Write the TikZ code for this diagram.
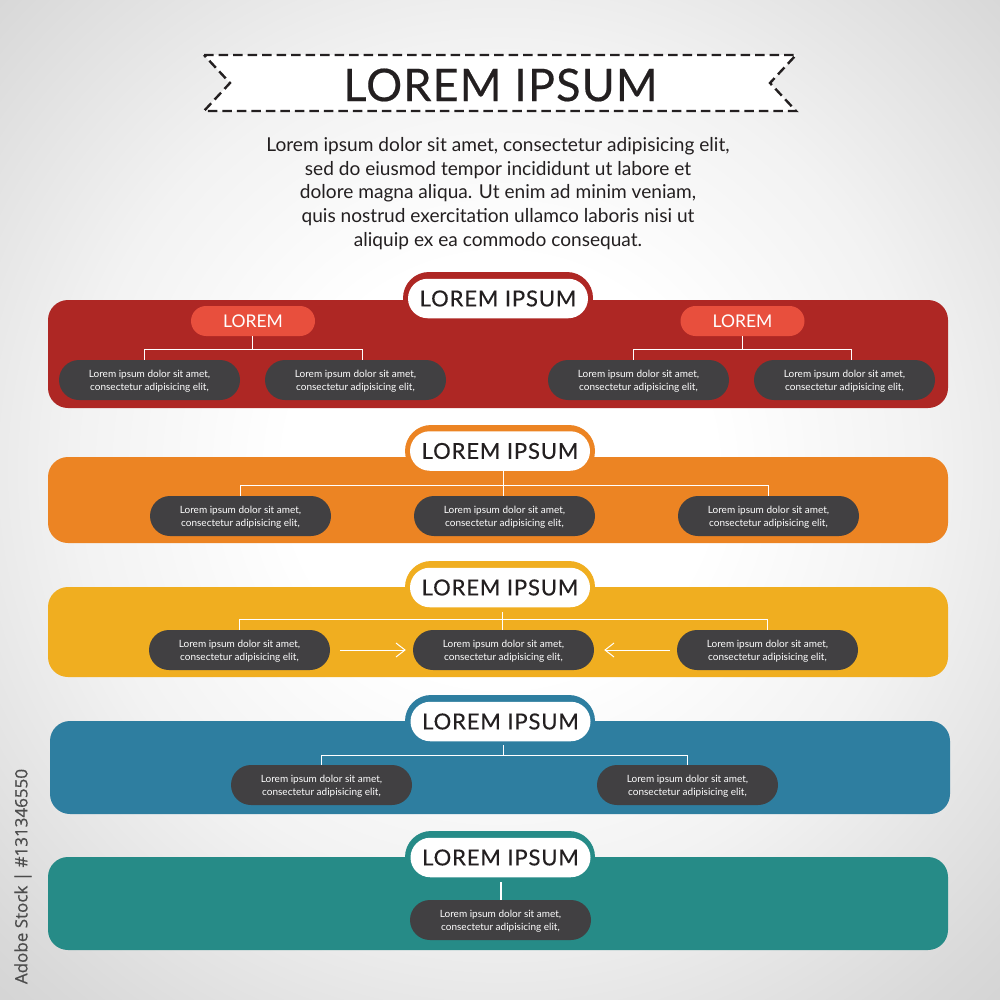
\documentclass[tikz,border=0pt]{standalone}
\usepackage{fontspec}
\setmainfont{Lato}
\newfontfamily\sidefont[FakeBold=0.5]{Open Sans}
\newfontfamily\headfont[LetterSpace=4,FakeBold=0.3]{Lato}
\newfontfamily\titlefont[LetterSpace=2.5,FakeBold=0.4]{Lato}
\usetikzlibrary{shapes.misc,arrows.meta,positioning}
\definecolor{cred}{HTML}{AE2724}
\definecolor{corange}{HTML}{EC8423}
\definecolor{cyellow}{HTML}{F0AE20}
\definecolor{cblue}{HTML}{2E7EA0}
\definecolor{cteal}{HTML}{268B87}
\definecolor{cdark}{HTML}{414042}
\definecolor{csub}{HTML}{E84F3D}
\definecolor{cink}{HTML}{231F20}
\pgfdeclareradialshading{bgshade}{\pgfpointorigin}{color(0bp)=(white);color(7bp)=(white);color(14bp)=(black!5);color(22.3bp)=(black!15);color(32.6bp)=(black!25);color(50bp)=(black!30)}
\tikzset{
  x=1pt,y=-1pt,
  band/.style={rounded corners=20pt,fill=#1},
  ring/.style={rounded rectangle,fill=#1,minimum width=190pt,minimum height=52pt,inner sep=0pt},
  hdr/.style={rounded rectangle,fill=white,minimum width=180pt,minimum height=39.5pt,inner sep=0pt,text=cink,font=\headfont\fontsize{22}{22}\selectfont},
  dark/.style={rounded rectangle,fill=cdark,minimum width=181pt,minimum height=40pt,inner sep=0pt,text=white,align=center,font=\fontsize{10}{13}\selectfont},
  sub/.style={rounded rectangle,fill=csub,minimum width=124pt,minimum height=30pt,inner sep=0pt,text=white,font=\fontsize{17.5}{17.5}\selectfont},
  link/.style={draw=white,line width=1.1pt},
  flow/.style={draw=white,line width=1pt,-{Straight Barb[length=9pt,width=14pt,line width=1pt]}},
  ribbon/.style={draw=cink,fill=white,line width=2.4pt,dash pattern=on 9.5pt off 5pt,line join=miter}
}
\newcommand{\LL}{\rule{0pt}{10pt}Lorem ipsum dolor sit amet,\\consectetur adipisicing elit,}
\newcommand{\HH}{LOREM IPSUM}
\begin{document}
\begin{tikzpicture}
\useasboundingbox (0,0) rectangle (1000,1000);
\begin{scope}
  \clip (0,0) rectangle (1000,1000);
  \shade[shading=bgshade] (500,470) circle (760);
\end{scope}

% title ribbon
\draw[ribbon] (204,55) -- (796,55) -- (770,83) -- (796,111) -- (204,111) -- (230,83) -- cycle;
\node[text=cink,font=\titlefont\fontsize{45}{45}\selectfont] (title) at (500.5,85) {LOREM IPSUM};
\node[text=cink,align=center,font=\fontsize{19.1}{23.8}\selectfont] (intro) at (498,193.5)
  {Lorem ipsum dolor sit amet, consectetur adipisicing elit,\\
   sed do eiusmod tempor incididunt ut labore et\\
   dolore magna aliqua. Ut enim ad minim veniam,\\
   quis nostrud exercitation ullamco laboris nisi ut\\
   aliquip ex ea commodo consequat.};

% red band
\fill[band=cred] (48,300) rectangle (948,408);
\node[ring=cred] (r0) at (498,298) {};
\node[hdr] (rh) at (498,298.5) {\HH};
\node[sub] (rs1) at (253,321) {LOREM};
\node[sub] (rs2) at (742.5,321) {LOREM};
\node[dark] (ra) at (149.5,380) {\LL};
\node[dark] (rb) at (355.5,380) {\LL};
\node[dark] (rc) at (638.5,380) {\LL};
\node[dark] (rd) at (844.5,380) {\LL};
\coordinate (rj1) at (252.5,349.5);
\coordinate (rj2) at (742.5,349.5);
\draw[link] (rs1.south -| rj1) -- (rj1);
\draw[link] ([xshift=-5pt]ra.north) |- (rj1) -| ([xshift=7pt]rb.north);
\draw[link] (rs2.south) -- (rj2);
\draw[link] ([xshift=-5pt]rc.north) |- (rj2) -| ([xshift=7pt]rd.north);

% orange band
\fill[band=corange] (48,457) rectangle (948,543);
\node[ring=corange] (o0) at (500,451) {};
\node[hdr] (oh) at (500,451) {\HH};
\node[dark] (oa) at (240.5,516) {\LL};
\node[dark] (ob) at (504.5,516) {\LL};
\node[dark] (oc) at (768.5,516) {\LL};
\coordinate (oj) at (503.5,485.5);
\draw[link] (oh.south -| oj) -- (ob.north -| oj);
\draw[link] (oa.north) |- (oj) -| (oc.north);

% yellow band
\fill[band=cyellow] (48,587) rectangle (948,677);
\node[ring=cyellow] (y0) at (500,587) {};
\node[hdr] (yh) at (500,587.5) {\HH};
\node[dark] (ya) at (239.5,650) {\LL};
\node[dark] (yb) at (503.5,650) {\LL};
\node[dark] (yc) at (767.5,650) {\LL};
\coordinate (yj) at (502.5,619.5);
\coordinate (yt) at (502.5,612);
\draw[link] (yt) -- (yb.north -| yt);
\draw[link] (ya.north) |- (yj) -| (yc.north);
\draw[flow] ([xshift=10pt]ya.east) -- ([xshift=-7pt]yb.west);
\draw[flow] ([xshift=-7pt]yc.west) -- ([xshift=10pt]yb.east);

% blue band
\fill[band=cblue] (50,721) rectangle (950,814);
\node[ring=cblue] (b0) at (500,721) {};
\node[hdr] (bh) at (500.5,721.5) {\HH};
\node[dark] (ba) at (321.5,785) {\LL};
\node[dark] (bb) at (687.5,785) {\LL};
\coordinate (bj) at (503.5,755.5);
\coordinate (bt) at (503.5,745);
\draw[link] (bt) -- (bj);
\draw[link] (ba.north) |- (bj) -| (bb.north);

% teal band
\fill[band=cteal] (48,857) rectangle (948,950);
\node[ring=cteal] (t0) at (500,857) {};
\node[hdr] (th) at (500.5,857.5) {\HH};
\node[dark] (ta) at (500.5,920) {\LL};
\coordinate (tt) at (501,882);
\draw[link,line width=1.6pt] (tt) -- (ta.north -| tt);

% side credit
\node[rotate=90,text=black!70,font=\sidefont\fontsize{17}{17}\selectfont] (credit) at (23,876.5) {Adobe Stock | \#131346550};
\end{tikzpicture}
\end{document}
